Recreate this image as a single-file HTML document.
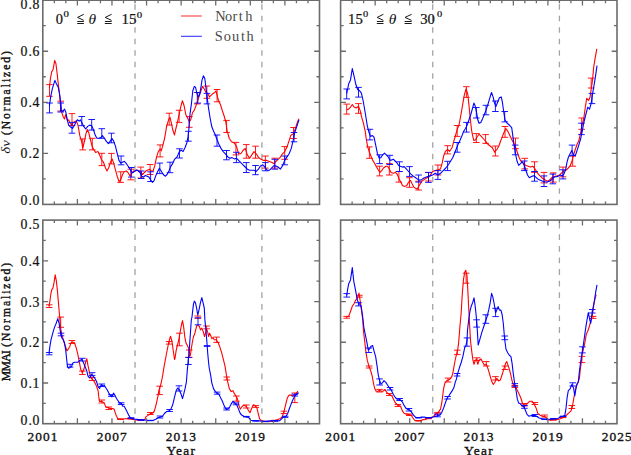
<!DOCTYPE html><html><head><meta charset="utf-8"><style>html,body{margin:0;padding:0;background:#fff;width:631px;height:455px;overflow:hidden}svg{display:block}text{font-family:"Liberation Serif",serif}</style></head><body>
<svg width="631" height="455" viewBox="0 0 631 455">
<rect width="631" height="455" fill="#fff"/>
<line x1="135.03" y1="0.2" x2="135.03" y2="204.4" stroke="#b8b8b8" stroke-width="1.7" stroke-dasharray="5.4 6.1" stroke-dashoffset="-4.1"/>
<line x1="135.03" y1="220.1" x2="135.03" y2="423.7" stroke="#b8b8b8" stroke-width="1.7" stroke-dasharray="5.8 5.8" stroke-dashoffset="-2.6"/>
<line x1="261.85" y1="0.2" x2="261.85" y2="204.4" stroke="#b8b8b8" stroke-width="1.7" stroke-dasharray="5.4 6.1" stroke-dashoffset="-4.1"/>
<line x1="261.85" y1="220.1" x2="261.85" y2="423.7" stroke="#b8b8b8" stroke-width="1.7" stroke-dasharray="5.8 5.8" stroke-dashoffset="-2.6"/>
<line x1="432.73" y1="0.2" x2="432.73" y2="204.4" stroke="#a4a4a4" stroke-width="1.3" stroke-dasharray="5.4 6.1" stroke-dashoffset="-4.1"/>
<line x1="432.73" y1="220.1" x2="432.73" y2="423.7" stroke="#a4a4a4" stroke-width="1.3" stroke-dasharray="5.8 5.8" stroke-dashoffset="-2.6"/>
<line x1="559.42" y1="0.2" x2="559.42" y2="204.4" stroke="#a4a4a4" stroke-width="1.3" stroke-dasharray="5.4 6.1" stroke-dashoffset="-4.1"/>
<line x1="559.42" y1="220.1" x2="559.42" y2="423.7" stroke="#a4a4a4" stroke-width="1.3" stroke-dasharray="5.8 5.8" stroke-dashoffset="-2.6"/>
<path d="M49.5 84.6V96.3M46.2 84.6h6.6M46.2 96.3h6.6M60.7 101.2V111.0M57.4 101.2h6.6M57.4 111.0h6.6M72.0 113.6V125.5M68.7 113.6h6.6M68.7 125.5h6.6M82.7 138.9V149.9M79.4 138.9h6.6M79.4 149.9h6.6M92.3 138.3V149.9M89.0 138.3h6.6M89.0 149.9h6.6M101.8 153.3V165.6M98.5 153.3h6.6M98.5 165.6h6.6M111.4 153.4V163.9M108.1 153.4h6.6M108.1 163.9h6.6M120.7 171.8V182.4M117.4 171.8h6.6M117.4 182.4h6.6M130.8 169.2V179.8M127.5 169.2h6.6M127.5 179.8h6.6M140.8 167.1V178.0M137.5 167.1h6.6M137.5 178.0h6.6M150.1 164.5V174.5M146.8 164.5h6.6M146.8 174.5h6.6M160.1 144.9V156.9M156.8 144.9h6.6M156.8 156.9h6.6M169.2 113.2V125.1M165.9 113.2h6.6M165.9 125.1h6.6M179.1 110.3V122.4M175.8 110.3h6.6M175.8 122.4h6.6M189.3 116.5V127.3M186.0 116.5h6.6M186.0 127.3h6.6M197.2 92.5V103.9M193.9 92.5h6.6M193.9 103.9h6.6M206.9 86.0V98.3M203.6 86.0h6.6M203.6 98.3h6.6M217.1 89.5V101.8M213.8 89.5h6.6M213.8 101.8h6.6M226.6 120.4V132.5M223.3 120.4h6.6M223.3 132.5h6.6M235.9 142.4V154.9M232.6 142.4h6.6M232.6 154.9h6.6M246.3 144.6V158.2M243.0 144.6h6.6M243.0 158.2h6.6M255.5 146.2V158.2M252.2 146.2h6.6M252.2 158.2h6.6M265.4 156.0V168.1M262.1 156.0h6.6M262.1 168.1h6.6M274.8 158.2V168.1M271.5 158.2h6.6M271.5 168.1h6.6M284.7 146.6V159.3M281.4 146.6h6.6M281.4 159.3h6.6M293.5 127.5V138.5M290.2 127.5h6.6M290.2 138.5h6.6" stroke="#ff0000" stroke-width="0.9" fill="none"/>
<polyline points="49.4,88.0 50.5,78.0 51.7,71.9 53.1,69.5 54.7,60.4 55.9,63.5 57.1,73.1 58.3,84.0 59.5,93.7 60.5,105.8 61.3,111.1 63.1,116.4 64.5,119.0 65.7,114.6 67.5,120.8 68.7,119.9 70.1,123.4 71.9,125.1 73.3,122.5 75.0,121.6 76.3,120.8 78.0,125.1 79.8,135.7 81.5,141.0 82.8,148.0 84.5,141.0 85.9,133.9 87.3,129.5 88.6,132.2 90.3,139.2 92.1,146.2 93.8,149.8 95.6,152.4 97.9,151.5 99.6,155.0 101.8,160.4 103.5,162.2 105.3,167.5 107.0,171.0 108.8,167.5 110.5,162.2 112.0,158.7 113.7,163.1 115.5,170.1 117.2,176.2 119.0,181.5 120.7,179.8 122.5,174.5 124.3,171.8 126.4,171.0 128.1,172.7 130.2,176.2 132.0,172.7 133.7,171.0 135.5,171.0 137.3,170.1 139.0,171.0 140.8,172.7 142.5,174.5 144.3,172.7 146.0,171.0 147.8,170.1 149.6,169.2 151.3,171.0 153.1,171.0 154.8,165.7 156.6,156.9 158.3,151.6 160.1,149.0 161.3,150.8 162.6,146.2 164.6,138.3 166.6,126.4 168.6,119.8 169.9,117.2 171.2,122.4 172.9,130.3 174.5,135.0 175.8,129.0 177.4,122.4 179.1,114.5 180.8,106.6 182.4,100.7 184.1,105.7 185.8,114.5 187.6,118.0 189.3,122.0 190.7,119.8 192.5,112.7 194.3,110.1 196.0,105.7 197.8,100.4 199.5,95.1 201.3,89.9 202.5,86.4 204.3,89.0 206.0,92.5 207.8,93.4 209.5,96.9 211.3,95.1 213.1,93.4 214.8,92.5 216.0,90.8 217.5,97.0 218.9,101.3 220.6,105.0 222.4,111.0 224.3,116.5 225.8,122.0 227.1,130.8 229.3,138.5 231.5,141.8 234.2,142.9 236.4,146.2 238.6,153.8 240.8,153.8 243.0,150.5 245.2,148.4 247.4,154.9 249.6,158.2 251.8,154.9 254.0,151.6 256.2,153.8 258.4,157.1 261.0,159.3 263.8,160.4 266.7,160.4 269.3,161.5 272.0,162.6 274.2,163.7 275.9,161.5 278.1,159.3 280.3,157.1 282.5,153.8 284.7,151.6 286.9,147.3 288.7,141.8 290.9,135.2 293.1,134.1 295.3,128.6 297.5,122.0 299.0,118.7" fill="none" stroke="#ff0000" stroke-width="1.1" stroke-linejoin="round"/>
<path d="M346.7 104.1V114.1M343.4 104.1h6.6M343.4 114.1h6.6M358.5 103.6V113.3M355.2 103.6h6.6M355.2 113.3h6.6M369.4 146.9V158.3M366.1 146.9h6.6M366.1 158.3h6.6M379.6 166.2V175.9M376.3 166.2h6.6M376.3 175.9h6.6M389.3 163.6V175.0M386.0 163.6h6.6M386.0 175.0h6.6M398.9 171.5V182.1M395.6 171.5h6.6M395.6 182.1h6.6M409.5 177.7V187.3M406.2 177.7h6.6M406.2 187.3h6.6M418.6 181.2V190.0M415.3 181.2h6.6M415.3 190.0h6.6M428.5 172.5V181.0M425.2 172.5h6.6M425.2 181.0h6.6M437.9 165.0V175.0M434.6 165.0h6.6M434.6 175.0h6.6M447.6 145.7V153.9M444.3 145.7h6.6M444.3 153.9h6.6M457.2 125.5V136.4M453.9 125.5h6.6M453.9 136.4h6.6M466.4 86.7V97.4M463.1 86.7h6.6M463.1 97.4h6.6M476.3 133.6V142.5M473.0 133.6h6.6M473.0 142.5h6.6M485.6 134.6V143.4M482.3 134.6h6.6M482.3 143.4h6.6M495.4 146.0V156.0M492.1 146.0h6.6M492.1 156.0h6.6M505.0 126.5V137.3M501.7 126.5h6.6M501.7 137.3h6.6M515.5 138.1V148.7M512.2 138.1h6.6M512.2 148.7h6.6M524.7 158.3V168.9M521.4 158.3h6.6M521.4 168.9h6.6M534.5 161.8V172.4M531.2 161.8h6.6M531.2 172.4h6.6M544.0 172.4V182.9M540.7 172.4h6.6M540.7 182.9h6.6M553.3 172.9V182.1M550.0 172.9h6.6M550.0 182.1h6.6M563.0 167.1V176.8M559.7 167.1h6.6M559.7 176.8h6.6M572.7 156.0V166.2M569.4 156.0h6.6M569.4 166.2h6.6M581.7 118.0V129.3M578.4 118.0h6.6M578.4 129.3h6.6M591.2 78.1V88.0M587.9 78.1h6.6M587.9 88.0h6.6" stroke="#ff0000" stroke-width="0.9" fill="none"/>
<polyline points="346.7,109.8 348.8,108.9 350.5,107.1 352.3,104.5 354.1,107.1 356.2,108.0 358.5,106.2 360.2,110.6 361.2,115.3 363.4,123.2 365.2,131.1 366.4,139.9 367.7,146.9 369.1,151.3 370.8,155.7 372.6,160.1 374.3,162.7 376.1,166.2 378.2,169.8 380.0,172.4 381.7,170.6 383.5,168.0 385.8,166.2 387.5,166.2 389.3,168.9 391.0,172.4 393.3,173.3 395.4,172.4 397.2,174.1 398.9,178.5 400.7,182.1 402.5,185.6 404.6,186.5 406.8,185.6 408.6,182.1 410.4,180.3 412.1,183.8 413.9,187.3 415.6,188.2 417.4,189.1 419.1,185.6 421.8,181.2 424.4,179.4 427.1,177.7 429.7,176.4 432.6,171.5 435.3,170.6 437.9,169.8 440.5,168.9 442.3,162.7 443.7,155.7 445.5,151.3 447.6,149.5 449.7,151.3 452.0,147.8 453.7,141.6 455.5,135.5 457.2,129.3 459.0,125.0 460.7,116.2 462.5,105.7 464.3,95.1 466.0,89.0 467.8,94.3 469.0,105.7 470.2,118.0 471.6,130.3 473.0,137.3 473.9,140.5 475.4,140.0 477.2,136.8 479.1,134.2 481.3,136.4 483.6,139.0 485.9,141.6 488.0,144.3 490.1,146.0 492.4,147.8 494.7,152.2 496.8,149.5 498.9,146.0 500.7,140.8 502.4,136.4 504.2,132.0 505.9,128.5 507.7,131.1 510.3,136.4 512.0,139.9 513.8,143.4 515.5,146.9 517.3,152.2 519.1,157.5 520.8,161.0 522.6,162.7 524.3,164.5 526.1,165.4 528.2,166.2 530.5,167.1 532.8,166.2 534.9,168.9 536.6,171.5 538.4,174.1 540.1,175.9 541.9,177.7 543.7,179.1 545.8,180.3 547.5,181.2 549.3,180.3 551.0,178.5 552.8,176.8 555.1,176.4 557.4,175.9 559.5,175.0 561.2,173.3 563.0,171.5 564.8,170.6 566.5,169.8 568.3,168.0 570.0,166.2 571.8,161.8 573.5,154.8 575.3,149.5 577.1,144.3 578.8,140.8 580.6,132.8 582.3,124.1 583.7,119.0 585.3,107.2 586.7,98.3 588.7,100.3 590.0,97.3 591.2,89.4 592.6,79.5 593.6,67.7 595.2,57.8 596.8,48.9" fill="none" stroke="#ff0000" stroke-width="1.1" stroke-linejoin="round"/>
<path d="M49.2 304.8V307.5M45.9 304.8h6.6M45.9 307.5h6.6M60.7 317.1V327.3M57.4 317.1h6.6M57.4 327.3h6.6M71.9 340.5V343.5M68.6 340.5h6.6M68.6 343.5h6.6M82.4 371.0V374.5M79.1 371.0h6.6M79.1 374.5h6.6M92.1 377.5V380.5M88.8 377.5h6.6M88.8 380.5h6.6M101.8 400.0V403.0M98.5 400.0h6.6M98.5 403.0h6.6M108.8 407.0V409.5M105.5 407.0h6.6M105.5 409.5h6.6M120.4 418.9V419.5M117.1 418.9h6.6M117.1 419.5h6.6M130.8 418.5V419.0M127.5 418.5h6.6M127.5 419.0h6.6M140.8 420.0V420.5M137.5 420.0h6.6M137.5 420.5h6.6M150.4 412.5V414.5M147.1 412.5h6.6M147.1 414.5h6.6M159.6 386.2V394.6M156.3 386.2h6.6M156.3 394.6h6.6M169.1 341.5V344.1M165.8 341.5h6.6M165.8 344.1h6.6M179.4 333.2V345.8M176.1 333.2h6.6M176.1 345.8h6.6M189.3 350.0V357.4M186.0 350.0h6.6M186.0 357.4h6.6M197.8 316.0V318.3M194.5 316.0h6.6M194.5 318.3h6.6M206.6 326.0V328.8M203.3 326.0h6.6M203.3 328.8h6.6M216.6 337.1V342.4M213.3 337.1h6.6M213.3 342.4h6.6M226.8 377.0V380.0M223.5 377.0h6.6M223.5 380.0h6.6M236.4 396.0V401.2M233.1 396.0h6.6M233.1 401.2h6.6M246.3 405.0V408.0M243.0 405.0h6.6M243.0 408.0h6.6M255.7 405.6V407.4M252.4 405.6h6.6M252.4 407.4h6.6M265.4 421.2V421.6M262.1 421.2h6.6M262.1 421.6h6.6M274.8 420.3V420.7M271.5 420.3h6.6M271.5 420.7h6.6M283.9 411.2V413.5M280.6 411.2h6.6M280.6 413.5h6.6M294.8 393.0V402.6M291.5 393.0h6.6M291.5 402.6h6.6" stroke="#ff0000" stroke-width="0.9" fill="none"/>
<polyline points="49.0,306.0 49.9,301.3 50.8,294.3 51.7,289.9 52.9,288.1 54.0,282.8 55.2,274.9 56.4,281.1 57.5,291.6 58.7,305.7 59.6,316.2 60.5,327.0 61.7,334.1 63.1,339.3 64.5,343.7 65.7,347.2 67.0,350.8 68.4,349.0 69.8,346.4 71.0,342.8 72.8,342.0 74.5,342.8 76.3,348.1 78.0,355.1 79.3,362.2 80.7,369.2 82.4,372.7 84.2,368.3 85.6,362.2 86.8,358.7 88.0,365.7 89.5,372.7 91.2,378.0 93.0,379.8 94.7,382.4 96.5,386.0 98.1,390.8 98.8,396.9 99.6,401.5 101.9,401.5 104.2,403.1 105.8,406.9 108.1,407.7 110.4,408.5 112.7,408.5 114.2,409.2 115.3,413.1 116.5,416.2 118.1,418.8 120.4,419.2 122.7,419.2 125.0,418.8 127.3,418.5 129.6,418.8 131.9,419.2 134.2,419.7 136.5,420.0 138.8,420.3 141.2,420.3 143.5,420.0 145.0,419.2 145.8,416.9 148.1,415.4 150.4,413.8 152.7,413.1 154.2,411.5 155.3,407.7 156.5,403.1 157.8,396.9 158.8,390.8 160.4,386.2 161.5,381.5 162.7,375.4 163.9,367.7 165.3,360.0 167.0,351.0 168.8,342.0 170.5,336.2 172.0,341.5 173.2,350.3 174.5,359.5 175.0,358.5 176.1,350.8 177.2,345.8 178.3,342.0 179.4,336.5 180.5,329.9 181.6,324.4 182.5,320.5 183.6,326.6 184.9,337.6 186.0,343.1 187.3,345.3 188.7,348.6 189.5,356.3 190.4,355.2 191.3,348.6 192.4,342.0 193.5,336.5 194.6,334.3 195.7,329.9 196.8,325.5 198.1,324.9 199.4,326.6 200.5,329.9 201.9,328.2 203.4,332.1 204.5,336.5 205.5,333.2 206.6,328.8 207.7,332.1 208.5,336.5 209.6,333.2 210.7,335.4 211.8,338.7 212.9,337.6 214.3,339.8 216.2,339.8 218.0,342.4 219.8,346.8 221.5,352.1 223.3,359.1 225.0,366.1 226.4,374.9 227.7,381.9 229.4,388.9 231.2,391.6 232.9,390.7 234.7,394.2 236.4,396.5 237.6,399.5 238.9,405.6 240.3,409.1 242.0,406.5 244.1,405.1 246.4,406.5 248.2,410.0 250.0,412.7 251.7,408.3 253.5,404.8 255.2,405.6 257.0,408.3 258.2,413.5 259.6,418.8 261.4,420.6 264.0,421.5 266.6,421.5 269.3,421.5 271.9,420.9 274.5,420.6 277.2,419.7 279.8,418.8 282.1,417.1 283.9,411.8 285.6,404.8 287.4,397.7 289.1,395.1 290.9,395.1 292.6,396.0 294.4,395.1 296.2,393.3 297.9,391.0" fill="none" stroke="#ff0000" stroke-width="1.1" stroke-linejoin="round"/>
<path d="M346.7 316.4V318.2M343.4 316.4h6.6M343.4 318.2h6.6M359.3 295.3V297.1M356.0 295.3h6.6M356.0 297.1h6.6M369.1 366.0V368.0M365.8 366.0h6.6M365.8 368.0h6.6M379.6 389.4V392.0M376.3 389.4h6.6M376.3 392.0h6.6M389.3 393.5V395.5M386.0 393.5h6.6M386.0 395.5h6.6M397.9 404.5V406.5M394.6 404.5h6.6M394.6 406.5h6.6M409.3 414.0V415.5M406.0 414.0h6.6M406.0 415.5h6.6M418.6 420.5V421.0M415.3 420.5h6.6M415.3 421.0h6.6M428.5 418.3V418.7M425.2 418.3h6.6M425.2 418.7h6.6M437.5 412.4V414.0M434.2 412.4h6.6M434.2 414.0h6.6M448.0 378.1V382.0M444.7 378.1h6.6M444.7 382.0h6.6M457.3 350.2V354.6M454.0 350.2h6.6M454.0 354.6h6.6M466.1 273.2V283.2M462.8 273.2h6.6M462.8 283.2h6.6M477.0 357.8V360.5M473.7 357.8h6.6M473.7 360.5h6.6M486.3 361.6V366.0M483.0 361.6h6.6M483.0 366.0h6.6M495.4 376.6V380.0M492.1 376.6h6.6M492.1 380.0h6.6M505.1 366.0V369.5M501.8 366.0h6.6M501.8 369.5h6.6M514.8 385.5V387.5M511.5 385.5h6.6M511.5 387.5h6.6M524.4 403.5V406.0M521.1 403.5h6.6M521.1 406.0h6.6M534.9 402.5V404.5M531.6 402.5h6.6M531.6 404.5h6.6M544.6 415.0V417.0M541.3 415.0h6.6M541.3 417.0h6.6M553.3 419.6V420.1M550.0 419.6h6.6M550.0 420.1h6.6M563.0 417.2V417.6M559.7 417.2h6.6M559.7 417.6h6.6M571.8 405.5V408.5M568.5 405.5h6.6M568.5 408.5h6.6M581.9 356.4V362.6M578.6 356.4h6.6M578.6 362.6h6.6M593.1 316.4V318.4M589.8 316.4h6.6M589.8 318.4h6.6" stroke="#ff0000" stroke-width="0.9" fill="none"/>
<polyline points="346.7,317.0 348.8,315.9 350.5,311.5 352.3,306.2 354.1,303.6 355.8,300.1 357.6,297.5 359.0,293.1 360.2,301.0 361.4,309.8 362.8,320.3 363.4,330.5 364.7,341.1 365.9,351.6 367.3,360.4 369.1,366.6 370.8,371.0 372.2,376.2 373.5,383.3 374.7,388.5 376.1,391.2 377.8,391.2 379.6,390.3 381.4,391.2 383.1,391.2 384.9,389.4 386.6,392.1 388.4,393.8 390.1,394.7 391.8,395.7 393.5,399.2 395.3,402.7 397.0,404.5 398.8,405.4 400.5,406.2 402.3,410.6 404.1,413.3 405.8,414.1 407.6,414.1 409.3,414.7 411.1,415.0 412.8,417.7 414.6,420.3 417.2,420.7 419.9,420.7 422.5,419.9 425.1,419.4 427.8,418.5 430.4,417.7 433.1,416.8 435.7,414.1 438.3,412.4 440.6,408.9 441.8,402.7 442.7,395.7 443.6,388.7 444.8,383.4 446.6,380.8 448.3,379.9 450.1,379.0 451.9,376.4 452.9,372.8 454.1,365.8 455.2,360.0 456.6,354.0 457.6,350.0 458.5,344.1 459.4,333.5 459.9,326.8 461.2,312.7 462.2,295.1 463.5,279.3 464.7,272.3 465.7,270.2 467.0,275.8 467.8,289.9 468.7,307.5 469.6,325.0 470.5,340.5 471.7,351.1 472.9,359.9 474.0,364.3 475.2,360.8 476.4,359.0 477.8,364.3 479.3,359.9 481.0,359.0 482.8,362.5 484.5,365.1 486.3,364.3 488.0,368.7 489.8,374.8 491.6,381.0 493.3,384.5 495.1,381.8 496.8,378.3 498.6,381.0 500.3,380.1 502.1,374.8 503.9,368.7 505.6,363.4 506.8,361.6 508.6,366.9 510.4,373.1 512.1,381.0 513.9,386.2 515.6,387.1 517.4,390.6 519.1,394.1 520.0,396.0 521.4,399.5 522.6,403.9 524.4,405.6 527.0,403.9 529.7,401.2 532.0,401.2 534.1,403.9 536.2,408.3 537.9,413.5 540.2,415.3 542.8,416.2 545.5,417.1 548.1,419.7 550.8,420.2 553.4,419.7 556.0,419.7 558.7,419.2 561.3,418.5 563.9,417.1 566.6,415.0 569.2,412.7 571.0,410.9 572.4,406.5 573.6,399.5 574.8,392.5 576.2,386.3 578.0,382.8 579.4,378.4 580.1,371.4 581.2,362.6 581.9,356.0 583.2,350.0 584.8,343.1 586.3,334.2 587.7,331.3 589.1,327.3 590.7,321.4 592.3,315.5 593.7,305.6 595.0,298.7 596.2,294.7" fill="none" stroke="#ff0000" stroke-width="1.1" stroke-linejoin="round"/>
<path d="M49.5 103.0V112.9M46.2 103.0h6.6M46.2 112.9h6.6M60.7 103.0V112.0M57.4 103.0h6.6M57.4 112.0h6.6M72.0 122.4V133.2M68.7 122.4h6.6M68.7 133.2h6.6M81.8 116.5V125.7M78.5 116.5h6.6M78.5 125.7h6.6M91.7 119.5V130.1M88.4 119.5h6.6M88.4 130.1h6.6M101.8 128.7V138.3M98.5 128.7h6.6M98.5 138.3h6.6M111.4 133.2V142.8M108.1 133.2h6.6M108.1 142.8h6.6M121.1 156.0V164.8M117.8 156.0h6.6M117.8 164.8h6.6M131.3 167.5V177.1M128.0 167.5h6.6M128.0 177.1h6.6M141.3 171.0V178.5M138.0 171.0h6.6M138.0 178.5h6.6M150.6 171.8V181.5M147.3 171.8h6.6M147.3 181.5h6.6M159.8 163.1V173.6M156.5 163.1h6.6M156.5 173.6h6.6M170.0 162.2V172.7M166.7 162.2h6.6M166.7 172.7h6.6M179.5 148.8V158.0M176.2 148.8h6.6M176.2 158.0h6.6M188.4 131.3V141.2M185.1 131.3h6.6M185.1 141.2h6.6M197.8 92.5V103.1M194.5 92.5h6.6M194.5 103.1h6.6M206.9 93.4V103.9M203.6 93.4h6.6M203.6 103.9h6.6M217.0 135.0V146.2M213.7 135.0h6.6M213.7 146.2h6.6M226.5 150.5V159.8M223.2 150.5h6.6M223.2 159.8h6.6M236.4 152.3V162.6M233.1 152.3h6.6M233.1 162.6h6.6M246.3 162.6V172.5M243.0 162.6h6.6M243.0 172.5h6.6M255.5 165.5V174.7M252.2 165.5h6.6M252.2 174.7h6.6M265.4 162.6V170.8M262.1 162.6h6.6M262.1 170.8h6.6M274.8 159.3V169.2M271.5 159.3h6.6M271.5 169.2h6.6M284.7 156.0V164.8M281.4 156.0h6.6M281.4 164.8h6.6M294.0 132.5V141.8M290.7 132.5h6.6M290.7 141.8h6.6" stroke="#0000ff" stroke-width="0.9" fill="none"/>
<polyline points="49.4,106.0 50.7,96.7 52.3,88.9 54.9,80.4 56.5,84.0 58.3,87.6 59.5,93.7 60.7,102.2 61.3,110.6 62.9,111.2 64.6,109.2 65.9,112.5 67.3,119.8 68.6,125.1 70.6,127.0 72.5,128.4 74.2,125.7 75.8,122.4 77.4,119.8 79.1,121.1 80.4,119.8 81.8,122.4 83.7,126.4 85.7,129.0 87.7,126.4 89.7,125.1 91.7,125.7 93.6,130.3 95.4,135.6 96.9,138.3 98.9,138.3 100.9,137.5 102.6,135.7 104.4,138.3 106.2,141.1 108.4,143.7 110.2,141.1 112.0,138.5 113.7,141.1 115.5,146.4 117.2,153.4 119.0,160.4 120.7,163.1 122.5,162.2 124.3,161.3 126.0,163.1 127.8,165.7 129.5,168.3 131.3,171.8 133.0,172.7 134.8,171.0 136.6,170.1 138.3,171.0 140.1,172.7 141.8,176.2 143.6,177.1 145.3,175.4 147.1,176.2 148.9,177.1 150.6,179.8 152.4,182.4 154.1,180.6 155.9,175.4 157.6,171.8 159.4,168.3 161.2,171.0 163.3,174.5 165.4,176.2 167.1,174.5 168.9,171.0 170.7,166.6 172.4,163.9 174.5,159.4 177.2,156.7 179.1,152.1 181.1,150.1 183.1,151.5 185.1,147.5 187.0,142.2 188.0,136.9 188.8,130.3 189.3,122.4 190.1,113.2 191.4,103.9 192.8,90.8 194.3,86.4 195.5,87.2 196.7,92.5 198.1,96.9 199.5,95.1 200.8,88.1 202.0,80.2 203.4,75.8 204.8,78.5 206.0,88.1 207.3,98.7 208.7,109.2 210.1,118.0 211.8,126.8 213.6,131.2 215.3,134.7 216.6,138.5 218.8,144.0 221.0,148.4 223.2,151.6 225.4,153.8 227.6,156.7 229.8,158.2 232.0,157.6 234.2,158.9 236.4,158.2 238.6,160.4 240.8,162.6 243.0,164.8 245.2,167.0 247.4,169.2 249.6,170.3 251.8,170.3 254.0,170.3 256.2,171.4 258.4,169.2 260.5,165.9 262.7,164.8 264.9,167.0 267.1,170.3 269.3,170.3 271.5,168.1 273.7,165.9 275.9,165.9 278.1,167.0 280.3,169.2 282.5,165.9 284.7,160.4 286.9,157.1 289.1,153.8 291.3,148.4 293.1,140.7 294.6,133.0 296.8,126.4 299.0,119.8" fill="none" stroke="#0000ff" stroke-width="1.1" stroke-linejoin="round"/>
<path d="M346.7 89.0V98.9M343.4 89.0h6.6M343.4 98.9h6.6M358.5 87.4V97.1M355.2 87.4h6.6M355.2 97.1h6.6M369.9 129.3V139.9M366.6 129.3h6.6M366.6 139.9h6.6M379.6 154.8V163.6M376.3 154.8h6.6M376.3 163.6h6.6M389.8 155.3V164.5M386.5 155.3h6.6M386.5 164.5h6.6M399.5 161.8V171.5M396.2 161.8h6.6M396.2 171.5h6.6M409.5 166.6V176.4M406.2 166.6h6.6M406.2 176.4h6.6M418.6 175.0V182.1M415.3 175.0h6.6M415.3 182.1h6.6M428.5 172.4V182.4M425.2 172.4h6.6M425.2 182.4h6.6M437.9 170.6V179.4M434.6 170.6h6.6M434.6 179.4h6.6M447.6 161.3V170.6M444.3 161.3h6.6M444.3 170.6h6.6M457.2 142.5V152.2M453.9 142.5h6.6M453.9 152.2h6.6M466.5 122.4V132.1M463.2 122.4h6.6M463.2 132.1h6.6M476.3 107.5V118.0M473.0 107.5h6.6M473.0 118.0h6.6M486.0 105.3V114.8M482.7 105.3h6.6M482.7 114.8h6.6M495.4 101.0V111.5M492.1 101.0h6.6M492.1 111.5h6.6M504.7 111.5V121.9M501.4 111.5h6.6M501.4 121.9h6.6M515.2 145.1V154.8M511.9 145.1h6.6M511.9 154.8h6.6M524.3 161.0V170.6M521.0 161.0h6.6M521.0 170.6h6.6M534.5 171.5V181.2M531.2 171.5h6.6M531.2 181.2h6.6M544.0 175.9V186.5M540.7 175.9h6.6M540.7 186.5h6.6M552.8 174.1V183.8M549.5 174.1h6.6M549.5 183.8h6.6M563.0 169.8V178.9M559.7 169.8h6.6M559.7 178.9h6.6M572.1 145.1V155.7M568.8 145.1h6.6M568.8 155.7h6.6M581.5 123.2V134.6M578.2 123.2h6.6M578.2 134.6h6.6M592.0 93.4V103.6M588.7 93.4h6.6M588.7 103.6h6.6" stroke="#0000ff" stroke-width="0.9" fill="none"/>
<polyline points="346.7,93.5 348.8,83.4 350.5,79.9 352.3,68.5 354.1,76.4 355.8,84.3 357.6,89.5 359.7,90.8 361.4,93.1 363.2,101.0 365.0,111.5 365.9,117.0 367.3,125.8 369.1,132.8 370.5,136.4 372.2,135.5 374.0,137.2 375.7,145.1 377.5,153.9 379.3,158.3 381.0,157.5 382.8,154.8 384.5,153.1 386.3,154.8 388.0,156.6 389.8,160.1 391.6,160.1 393.3,159.2 395.1,161.0 396.8,162.7 398.6,165.4 400.3,166.2 402.5,167.1 404.2,166.6 406.3,168.9 408.6,171.5 410.9,174.1 413.0,175.9 415.6,177.7 417.9,179.4 419.7,180.3 421.8,179.4 424.4,177.7 427.1,176.8 429.7,175.9 432.6,175.0 435.3,173.3 437.9,175.0 440.5,173.3 443.2,170.6 445.8,168.0 448.5,164.5 450.7,161.0 452.8,157.5 455.0,152.2 456.7,147.8 458.5,143.4 460.2,140.0 462.0,135.6 463.7,131.2 465.5,128.5 467.2,125.0 469.0,119.8 470.8,114.5 472.5,108.3 473.9,103.1 475.1,105.7 476.6,112.7 477.8,119.8 479.0,123.3 480.8,122.4 482.5,118.9 484.3,114.5 486.0,110.1 487.8,104.8 489.6,98.7 491.5,92.5 493.1,96.9 494.5,103.1 495.9,106.6 497.6,102.2 499.4,97.8 501.2,96.9 502.4,102.2 503.6,111.0 505.0,119.8 506.8,122.8 508.7,124.5 510.5,126.3 511.7,127.6 512.9,136.4 514.1,145.1 515.5,153.9 517.0,161.0 518.7,165.4 520.5,163.6 522.2,161.8 524.0,164.5 525.7,169.8 527.5,175.0 529.3,177.7 531.0,176.8 532.8,175.9 534.5,175.9 536.3,177.7 538.4,179.4 540.5,180.3 542.8,181.2 545.1,181.7 547.2,182.1 549.3,181.2 551.0,180.3 552.8,178.5 554.6,176.8 556.8,176.8 558.6,175.9 560.4,175.0 562.1,175.9 563.9,174.1 565.6,169.8 566.9,162.7 568.3,157.5 570.0,153.9 571.8,150.4 573.5,154.8 575.3,155.7 577.1,150.4 578.8,145.1 580.6,139.0 582.3,131.1 583.7,123.0 585.7,115.1 587.7,107.2 589.6,109.2 591.2,103.2 592.6,93.4 594.0,85.5 595.6,75.6 597.0,65.7" fill="none" stroke="#0000ff" stroke-width="1.1" stroke-linejoin="round"/>
<path d="M49.2 352.5V354.8M45.9 352.5h6.6M45.9 354.8h6.6M61.0 333.2V335.8M57.7 333.2h6.6M57.7 335.8h6.6M70.1 364.3V367.1M66.8 364.3h6.6M66.8 367.1h6.6M82.4 358.3V361.0M79.1 358.3h6.6M79.1 361.0h6.6M92.1 372.7V375.4M88.8 372.7h6.6M88.8 375.4h6.6M101.8 384.0V386.5M98.5 384.0h6.6M98.5 386.5h6.6M111.4 394.7V396.4M108.1 394.7h6.6M108.1 396.4h6.6M121.2 402.8V404.5M117.9 402.8h6.6M117.9 404.5h6.6M131.0 417.8V418.2M127.7 417.8h6.6M127.7 418.2h6.6M141.0 419.8V420.2M137.7 419.8h6.6M137.7 420.2h6.6M150.3 420.3V420.7M147.0 420.3h6.6M147.0 420.7h6.6M160.0 416.0V418.0M156.7 416.0h6.6M156.7 418.0h6.6M169.6 409.5V411.5M166.3 409.5h6.6M166.3 411.5h6.6M179.0 385.8V391.0M175.7 385.8h6.6M175.7 391.0h6.6M188.4 357.4V364.5M185.1 357.4h6.6M185.1 364.5h6.6M198.0 317.8V324.8M194.7 317.8h6.6M194.7 324.8h6.6M207.1 345.6V346.4M203.8 345.6h6.6M203.8 346.4h6.6M217.1 392.1V394.2M213.8 392.1h6.6M213.8 394.2h6.6M226.6 408.0V410.0M223.3 408.0h6.6M223.3 410.0h6.6M236.0 403.0V404.8M232.7 403.0h6.6M232.7 404.8h6.6M246.3 416.4V416.9M243.0 416.4h6.6M243.0 416.9h6.6M255.5 420.6V421.0M252.2 420.6h6.6M252.2 421.0h6.6M265.4 421.2V421.6M262.1 421.2h6.6M262.1 421.6h6.6M274.8 420.7V421.1M271.5 420.7h6.6M271.5 421.1h6.6M285.1 416.2V417.4M281.8 416.2h6.6M281.8 417.4h6.6M294.8 394.2V396.0M291.5 394.2h6.6M291.5 396.0h6.6" stroke="#0000ff" stroke-width="0.9" fill="none"/>
<polyline points="49.0,353.4 49.9,346.4 51.1,339.3 52.5,334.1 54.3,327.9 56.1,323.5 57.8,318.6 59.2,323.8 60.5,332.3 61.7,337.6 63.1,339.3 64.5,342.8 65.7,349.9 66.6,358.7 67.5,366.6 68.7,368.3 70.1,367.5 71.5,366.6 72.8,363.1 74.5,362.2 76.3,362.2 78.0,362.2 79.8,360.4 81.5,359.5 83.3,362.2 85.1,366.6 86.8,371.0 88.0,376.2 89.8,378.0 91.6,374.5 93.0,376.2 94.7,378.0 96.5,381.5 98.2,386.8 99.6,388.5 101.2,384.6 102.7,386.2 104.2,385.4 105.8,387.7 107.3,390.0 108.8,393.1 110.4,395.4 111.9,396.9 113.5,393.1 115.0,395.4 116.5,398.5 118.1,400.8 119.6,403.1 121.2,403.1 122.7,406.2 124.2,406.2 125.8,409.2 127.3,412.3 128.8,415.4 130.4,417.7 132.7,418.8 135.0,419.2 137.3,419.4 139.6,419.7 141.9,420.0 144.2,420.0 146.5,420.3 148.8,420.5 151.2,420.5 153.5,420.3 155.8,419.2 158.1,417.7 160.4,416.9 162.6,416.2 164.4,413.5 166.2,411.8 168.8,410.9 170.9,409.1 172.7,404.8 174.4,397.7 176.2,390.7 177.6,388.1 179.3,389.8 181.1,394.2 182.5,398.6 183.7,394.2 185.0,388.9 186.4,381.9 187.2,371.4 188.0,362.9 188.7,356.3 189.5,346.4 190.4,333.2 191.3,320.0 192.0,316.9 193.4,304.6 194.3,301.1 195.5,302.8 196.6,308.1 197.8,315.1 199.0,309.9 200.4,302.8 201.8,297.6 203.1,302.8 204.3,308.1 204.9,320.0 205.8,328.8 206.9,342.0 207.7,353.0 208.5,361.8 209.2,368.0 210.6,374.9 211.8,382.8 213.6,388.9 215.4,391.6 217.1,393.3 218.9,394.2 220.6,397.7 222.4,401.2 224.1,405.6 225.9,409.1 227.7,409.1 229.4,407.4 231.2,403.9 232.9,401.2 234.7,403.0 236.8,404.8 238.5,409.1 240.3,413.5 242.0,415.3 243.8,416.2 245.5,416.7 247.3,417.1 249.1,417.9 250.8,420.2 253.5,420.6 256.1,420.9 259.6,420.9 263.1,421.5 266.6,421.5 270.1,420.9 273.7,420.9 277.2,420.9 279.8,420.6 281.6,418.8 283.3,417.1 286.0,416.2 287.7,413.5 289.5,408.3 291.2,403.9 293.0,399.5 294.8,396.0 296.5,394.2 298.6,392.8" fill="none" stroke="#0000ff" stroke-width="1.1" stroke-linejoin="round"/>
<path d="M346.7 293.6V297.1M343.4 293.6h6.6M343.4 297.1h6.6M358.5 302.7V305.9M355.2 302.7h6.6M355.2 305.9h6.6M368.7 348.0V352.5M365.4 348.0h6.6M365.4 352.5h6.6M379.6 378.9V385.0M376.3 378.9h6.6M376.3 385.0h6.6M390.1 387.5V390.0M386.8 387.5h6.6M386.8 390.0h6.6M399.7 398.5V400.5M396.4 398.5h6.6M396.4 400.5h6.6M409.0 408.5V411.0M405.7 408.5h6.6M405.7 411.0h6.6M418.6 417.5V417.9M415.3 417.5h6.6M415.3 417.9h6.6M428.5 417.5V417.9M425.2 417.5h6.6M425.2 417.9h6.6M437.5 414.1V416.8M434.2 414.1h6.6M434.2 416.8h6.6M447.6 396.5V399.0M444.3 396.5h6.6M444.3 399.0h6.6M457.1 373.5V376.0M453.8 373.5h6.6M453.8 376.0h6.6M467.0 337.9V346.2M463.7 337.9h6.6M463.7 346.2h6.6M476.6 319.8V327.1M473.3 319.8h6.6M473.3 327.1h6.6M485.8 314.8V323.3M482.5 314.8h6.6M482.5 323.3h6.6M495.6 308.3V316.6M492.3 308.3h6.6M492.3 316.6h6.6M504.8 336.0V339.7M501.5 336.0h6.6M501.5 339.7h6.6M514.8 383.6V386.2M511.5 383.6h6.6M511.5 386.2h6.6M524.4 405.5V408.3M521.1 405.5h6.6M521.1 408.3h6.6M534.9 414.5V416.5M531.6 414.5h6.6M531.6 416.5h6.6M544.6 419.0V419.4M541.3 419.0h6.6M541.3 419.4h6.6M553.3 418.6V419.0M550.0 418.6h6.6M550.0 419.0h6.6M563.0 416.1V416.5M559.7 416.1h6.6M559.7 416.5h6.6M572.7 382.8V386.0M569.4 382.8h6.6M569.4 386.0h6.6M582.4 346.8V352.9M579.1 346.8h6.6M579.1 352.9h6.6M592.3 309.5V313.0M589.0 309.5h6.6M589.0 313.0h6.6" stroke="#0000ff" stroke-width="0.9" fill="none"/>
<polyline points="346.7,295.3 347.9,287.8 348.8,283.4 350.5,279.9 352.3,267.6 353.7,280.8 354.9,286.9 356.2,293.9 357.6,301.0 359.3,303.6 361.1,306.2 362.5,315.0 363.8,327.0 365.2,334.1 367.0,342.8 368.2,349.9 369.4,349.0 370.8,346.4 372.6,345.5 374.0,350.8 375.7,356.9 377.0,365.7 378.2,374.5 379.6,380.6 381.0,384.1 382.8,382.4 384.0,380.6 385.8,382.4 387.5,385.0 389.3,387.7 391.0,389.6 391.8,391.3 393.5,394.8 395.3,397.5 397.0,399.2 398.8,399.2 400.5,400.1 402.3,401.8 404.1,405.4 405.8,408.0 407.6,409.4 409.3,409.8 411.1,411.5 412.8,414.1 414.6,416.4 416.4,417.7 419.0,417.7 421.6,417.1 424.3,417.1 426.9,417.7 429.5,417.7 432.2,417.3 434.8,416.4 437.5,415.9 440.1,415.0 441.8,412.4 443.6,408.0 445.4,402.7 447.1,398.3 448.9,395.7 450.6,393.1 452.4,390.4 454.1,386.9 455.4,381.6 456.4,379.2 457.6,373.9 459.4,367.8 461.2,362.5 462.9,356.4 464.7,347.6 465.9,345.8 467.0,340.5 467.5,330.3 468.7,319.8 470.0,311.0 471.4,305.7 472.8,302.2 474.0,297.8 474.9,303.9 475.9,312.7 477.0,325.0 478.2,345.0 480.0,338.8 481.9,332.1 483.7,326.8 485.4,321.5 487.2,316.2 488.9,309.2 490.3,302.2 491.6,293.4 492.8,296.9 494.2,303.9 495.6,312.7 496.8,310.1 498.1,306.6 499.5,310.1 500.9,310.1 502.1,314.5 503.3,323.3 504.6,338.8 506.0,349.3 507.7,352.8 509.5,355.5 510.9,356.4 512.1,363.4 513.3,373.9 514.8,384.5 516.2,391.5 517.4,399.4 518.6,402.9 520.4,403.8 521.8,405.6 523.5,406.5 525.3,410.0 527.0,414.4 528.8,416.2 530.5,415.7 533.2,415.3 535.8,415.7 537.6,417.1 539.3,417.9 542.0,418.8 544.6,419.2 547.2,419.7 549.9,419.2 552.5,418.8 555.1,418.8 557.8,418.5 560.4,417.1 563.1,416.2 564.8,415.3 566.0,408.3 567.1,397.7 568.3,390.7 570.1,388.9 571.8,384.5 573.6,388.1 574.8,396.0 575.9,388.9 577.1,383.7 578.3,381.9 579.4,371.4 580.6,362.6 581.9,353.8 582.8,349.0 584.4,337.2 585.8,327.3 587.1,319.4 588.3,312.5 589.7,319.4 590.7,323.4 591.7,315.5 593.1,307.5 594.6,299.6 595.6,292.7 597.0,284.8" fill="none" stroke="#0000ff" stroke-width="1.1" stroke-linejoin="round"/>
<rect x="42.8" y="0.2" width="276.70" height="204.20" fill="none" stroke="#6b6b6b" stroke-width="1.6"/>
<path d="M54.33 204.4v-3.0M54.33 0.2v3.0M65.86 204.4v-3.0M65.86 0.2v3.0M77.39 204.4v-5.4M77.39 0.2v5.4M88.92 204.4v-3.0M88.92 0.2v3.0M100.45 204.4v-3.0M100.45 0.2v3.0M111.97 204.4v-5.4M111.97 0.2v5.4M123.50 204.4v-3.0M123.50 0.2v3.0M135.03 204.4v-3.0M135.03 0.2v3.0M146.56 204.4v-5.4M146.56 0.2v5.4M158.09 204.4v-3.0M158.09 0.2v3.0M169.62 204.4v-3.0M169.62 0.2v3.0M181.15 204.4v-5.4M181.15 0.2v5.4M192.68 204.4v-3.0M192.68 0.2v3.0M204.21 204.4v-3.0M204.21 0.2v3.0M215.74 204.4v-5.4M215.74 0.2v5.4M227.27 204.4v-3.0M227.27 0.2v3.0M238.80 204.4v-3.0M238.80 0.2v3.0M250.32 204.4v-5.4M250.32 0.2v5.4M261.85 204.4v-3.0M261.85 0.2v3.0M273.38 204.4v-3.0M273.38 0.2v3.0M284.91 204.4v-5.4M284.91 0.2v5.4M296.44 204.4v-3.0M296.44 0.2v3.0M307.97 204.4v-3.0M307.97 0.2v3.0M42.8 178.88h3.0M319.5 178.88h-3.0M42.8 153.35h5.3M319.5 153.35h-5.3M42.8 127.83h3.0M319.5 127.83h-3.0M42.8 102.30h5.3M319.5 102.30h-5.3M42.8 76.77h3.0M319.5 76.77h-3.0M42.8 51.25h5.3M319.5 51.25h-5.3M42.8 25.72h3.0M319.5 25.72h-3.0" stroke="#6b6b6b" stroke-width="1.3" fill="none"/>
<rect x="340.6" y="0.2" width="276.40" height="204.20" fill="none" stroke="#6b6b6b" stroke-width="1.6"/>
<path d="M352.12 204.4v-3.0M352.12 0.2v3.0M363.63 204.4v-3.0M363.63 0.2v3.0M375.15 204.4v-5.4M375.15 0.2v5.4M386.67 204.4v-3.0M386.67 0.2v3.0M398.18 204.4v-3.0M398.18 0.2v3.0M409.70 204.4v-5.4M409.70 0.2v5.4M421.22 204.4v-3.0M421.22 0.2v3.0M432.73 204.4v-3.0M432.73 0.2v3.0M444.25 204.4v-5.4M444.25 0.2v5.4M455.77 204.4v-3.0M455.77 0.2v3.0M467.28 204.4v-3.0M467.28 0.2v3.0M478.80 204.4v-5.4M478.80 0.2v5.4M490.32 204.4v-3.0M490.32 0.2v3.0M501.83 204.4v-3.0M501.83 0.2v3.0M513.35 204.4v-5.4M513.35 0.2v5.4M524.87 204.4v-3.0M524.87 0.2v3.0M536.38 204.4v-3.0M536.38 0.2v3.0M547.90 204.4v-5.4M547.90 0.2v5.4M559.42 204.4v-3.0M559.42 0.2v3.0M570.93 204.4v-3.0M570.93 0.2v3.0M582.45 204.4v-5.4M582.45 0.2v5.4M593.97 204.4v-3.0M593.97 0.2v3.0M605.48 204.4v-3.0M605.48 0.2v3.0M340.6 178.88h3.0M617.0 178.88h-3.0M340.6 153.35h5.3M617.0 153.35h-5.3M340.6 127.83h3.0M617.0 127.83h-3.0M340.6 102.30h5.3M617.0 102.30h-5.3M340.6 76.77h3.0M617.0 76.77h-3.0M340.6 51.25h5.3M617.0 51.25h-5.3M340.6 25.72h3.0M617.0 25.72h-3.0" stroke="#6b6b6b" stroke-width="1.3" fill="none"/>
<rect x="42.8" y="220.1" width="276.70" height="203.60" fill="none" stroke="#6b6b6b" stroke-width="1.6"/>
<path d="M54.33 423.7v-3.0M54.33 220.1v3.0M65.86 423.7v-3.0M65.86 220.1v3.0M77.39 423.7v-5.4M77.39 220.1v5.4M88.92 423.7v-3.0M88.92 220.1v3.0M100.45 423.7v-3.0M100.45 220.1v3.0M111.97 423.7v-5.4M111.97 220.1v5.4M123.50 423.7v-3.0M123.50 220.1v3.0M135.03 423.7v-3.0M135.03 220.1v3.0M146.56 423.7v-5.4M146.56 220.1v5.4M158.09 423.7v-3.0M158.09 220.1v3.0M169.62 423.7v-3.0M169.62 220.1v3.0M181.15 423.7v-5.4M181.15 220.1v5.4M192.68 423.7v-3.0M192.68 220.1v3.0M204.21 423.7v-3.0M204.21 220.1v3.0M215.74 423.7v-5.4M215.74 220.1v5.4M227.27 423.7v-3.0M227.27 220.1v3.0M238.80 423.7v-3.0M238.80 220.1v3.0M250.32 423.7v-5.4M250.32 220.1v5.4M261.85 423.7v-3.0M261.85 220.1v3.0M273.38 423.7v-3.0M273.38 220.1v3.0M284.91 423.7v-5.4M284.91 220.1v5.4M296.44 423.7v-3.0M296.44 220.1v3.0M307.97 423.7v-3.0M307.97 220.1v3.0M42.8 403.34h3.0M319.5 403.34h-3.0M42.8 382.98h5.3M319.5 382.98h-5.3M42.8 362.62h3.0M319.5 362.62h-3.0M42.8 342.26h5.3M319.5 342.26h-5.3M42.8 321.90h3.0M319.5 321.90h-3.0M42.8 301.54h5.3M319.5 301.54h-5.3M42.8 281.18h3.0M319.5 281.18h-3.0M42.8 260.82h5.3M319.5 260.82h-5.3M42.8 240.46h3.0M319.5 240.46h-3.0" stroke="#6b6b6b" stroke-width="1.3" fill="none"/>
<rect x="340.6" y="220.1" width="276.40" height="203.60" fill="none" stroke="#6b6b6b" stroke-width="1.6"/>
<path d="M352.12 423.7v-3.0M352.12 220.1v3.0M363.63 423.7v-3.0M363.63 220.1v3.0M375.15 423.7v-5.4M375.15 220.1v5.4M386.67 423.7v-3.0M386.67 220.1v3.0M398.18 423.7v-3.0M398.18 220.1v3.0M409.70 423.7v-5.4M409.70 220.1v5.4M421.22 423.7v-3.0M421.22 220.1v3.0M432.73 423.7v-3.0M432.73 220.1v3.0M444.25 423.7v-5.4M444.25 220.1v5.4M455.77 423.7v-3.0M455.77 220.1v3.0M467.28 423.7v-3.0M467.28 220.1v3.0M478.80 423.7v-5.4M478.80 220.1v5.4M490.32 423.7v-3.0M490.32 220.1v3.0M501.83 423.7v-3.0M501.83 220.1v3.0M513.35 423.7v-5.4M513.35 220.1v5.4M524.87 423.7v-3.0M524.87 220.1v3.0M536.38 423.7v-3.0M536.38 220.1v3.0M547.90 423.7v-5.4M547.90 220.1v5.4M559.42 423.7v-3.0M559.42 220.1v3.0M570.93 423.7v-3.0M570.93 220.1v3.0M582.45 423.7v-5.4M582.45 220.1v5.4M593.97 423.7v-3.0M593.97 220.1v3.0M605.48 423.7v-3.0M605.48 220.1v3.0M340.6 403.34h3.0M617.0 403.34h-3.0M340.6 382.98h5.3M617.0 382.98h-5.3M340.6 362.62h3.0M617.0 362.62h-3.0M340.6 342.26h5.3M617.0 342.26h-5.3M340.6 321.90h3.0M617.0 321.90h-3.0M340.6 301.54h5.3M617.0 301.54h-5.3M340.6 281.18h3.0M617.0 281.18h-3.0M340.6 260.82h5.3M617.0 260.82h-5.3M340.6 240.46h3.0M617.0 240.46h-3.0" stroke="#6b6b6b" stroke-width="1.3" fill="none"/>
<text x="20.4 28.5 32.5" y="9.10" font-size="13.8" fill="#111" stroke="#111" stroke-width="0.22">0.8</text>
<text x="20.4 28.5 32.5" y="56.20" font-size="13.8" fill="#111" stroke="#111" stroke-width="0.22">0.6</text>
<text x="20.4 28.5 32.5" y="107.20" font-size="13.8" fill="#111" stroke="#111" stroke-width="0.22">0.4</text>
<text x="20.4 28.5 32.5" y="158.20" font-size="13.8" fill="#111" stroke="#111" stroke-width="0.22">0.2</text>
<text x="20.4 28.5 32.5" y="205.20" font-size="13.8" fill="#111" stroke="#111" stroke-width="0.22">0.0</text>
<text x="20.4 28.5 32.5" y="228.60" font-size="13.8" fill="#111" stroke="#111" stroke-width="0.22">0.5</text>
<text x="20.4 28.5 32.5" y="265.90" font-size="13.8" fill="#111" stroke="#111" stroke-width="0.22">0.4</text>
<text x="20.4 28.5 32.5" y="306.60" font-size="13.8" fill="#111" stroke="#111" stroke-width="0.22">0.3</text>
<text x="20.4 28.5 32.5" y="347.10" font-size="13.8" fill="#111" stroke="#111" stroke-width="0.22">0.2</text>
<text x="20.4 28.5 32.5" y="388.00" font-size="13.8" fill="#111" stroke="#111" stroke-width="0.22">0.1</text>
<text x="20.4 28.5 32.5" y="424.60" font-size="13.8" fill="#111" stroke="#111" stroke-width="0.22">0.0</text>
<text x="27.50" y="440.9" font-size="13.4" textLength="30.0" lengthAdjust="spacing" fill="#111" stroke="#111" stroke-width="0.35">2001</text>
<text x="96.67" y="440.9" font-size="13.4" textLength="30.0" lengthAdjust="spacing" fill="#111" stroke="#111" stroke-width="0.35">2007</text>
<text x="165.85" y="440.9" font-size="13.4" textLength="30.0" lengthAdjust="spacing" fill="#111" stroke="#111" stroke-width="0.35">2013</text>
<text x="235.02" y="440.9" font-size="13.4" textLength="30.0" lengthAdjust="spacing" fill="#111" stroke="#111" stroke-width="0.35">2019</text>
<text x="166.55" y="455.3" font-size="13.4" textLength="28.4" lengthAdjust="spacing" fill="#111" stroke="#111" stroke-width="0.35">Year</text>
<text x="325.30" y="440.9" font-size="13.4" textLength="30.0" lengthAdjust="spacing" fill="#111" stroke="#111" stroke-width="0.35">2001</text>
<text x="394.40" y="440.9" font-size="13.4" textLength="30.0" lengthAdjust="spacing" fill="#111" stroke="#111" stroke-width="0.35">2007</text>
<text x="463.50" y="440.9" font-size="13.4" textLength="30.0" lengthAdjust="spacing" fill="#111" stroke="#111" stroke-width="0.35">2013</text>
<text x="532.60" y="440.9" font-size="13.4" textLength="30.0" lengthAdjust="spacing" fill="#111" stroke="#111" stroke-width="0.35">2019</text>
<text x="601.70" y="440.9" font-size="13.4" textLength="30.0" lengthAdjust="spacing" fill="#111" stroke="#111" stroke-width="0.35">2025</text>
<text x="464.20" y="455.3" font-size="13.4" textLength="28.4" lengthAdjust="spacing" fill="#111" stroke="#111" stroke-width="0.35">Year</text>
<text x="55.8" y="23.6" font-size="13.6" font-style="normal" fill="#111" stroke="#111" stroke-width="0.22" textLength="7.2" lengthAdjust="spacingAndGlyphs">0</text>
<text x="63.6" y="17.4" font-size="8.6" font-style="normal" fill="#111" stroke="#111" stroke-width="0.22" textLength="5.4" lengthAdjust="spacingAndGlyphs">0</text>
<path d="M83.80 14.30L77.60 17.40L83.80 20.40M77.30 21.50H83.80M77.20 23.50H83.90" stroke="#1a1a1a" stroke-width="1.0" fill="none"/>
<text x="88.6" y="23.7" font-size="13.6" font-style="italic" fill="#111" stroke="#111" stroke-width="0" textLength="7.6" lengthAdjust="spacingAndGlyphs">&#952;</text>
<path d="M111.60 14.30L105.20 17.40L111.60 20.40M104.90 21.50H111.60M104.80 23.50H111.70" stroke="#1a1a1a" stroke-width="1.0" fill="none"/>
<text x="121.6" y="23.6" font-size="13.6" font-style="normal" fill="#111" stroke="#111" stroke-width="0.22" textLength="15.0" lengthAdjust="spacingAndGlyphs">15</text>
<text x="136.7" y="17.7" font-size="8.6" font-style="normal" fill="#111" stroke="#111" stroke-width="0.22" textLength="5.4" lengthAdjust="spacingAndGlyphs">0</text>
<text x="348.1" y="23.6" font-size="13.6" font-style="normal" fill="#111" stroke="#111" stroke-width="0.22" textLength="14.6" lengthAdjust="spacingAndGlyphs">15</text>
<text x="363.1" y="17.4" font-size="8.6" font-style="normal" fill="#111" stroke="#111" stroke-width="0.22" textLength="5.2" lengthAdjust="spacingAndGlyphs">0</text>
<path d="M383.40 14.30L377.20 17.40L383.40 20.40M376.90 21.50H383.40M376.80 23.50H383.50" stroke="#1a1a1a" stroke-width="1.0" fill="none"/>
<text x="388.8" y="23.7" font-size="13.6" font-style="italic" fill="#111" stroke="#111" stroke-width="0" textLength="7.6" lengthAdjust="spacingAndGlyphs">&#952;</text>
<path d="M411.60 14.30L405.00 17.40L411.60 20.40M404.70 21.50H411.60M404.60 23.50H411.70" stroke="#1a1a1a" stroke-width="1.0" fill="none"/>
<text x="420.3" y="23.6" font-size="13.6" font-style="normal" fill="#111" stroke="#111" stroke-width="0.22" textLength="14.6" lengthAdjust="spacingAndGlyphs">30</text>
<text x="436.9" y="17.2" font-size="8.6" font-style="normal" fill="#111" stroke="#111" stroke-width="0.22" textLength="5.2" lengthAdjust="spacingAndGlyphs">0</text>
<line x1="181" y1="16.0" x2="201.8" y2="16.0" stroke="#ff7070" stroke-width="1.5"/>
<line x1="181" y1="36.35" x2="201.8" y2="36.35" stroke="#4848ff" stroke-width="1.2"/>
<text x="215.3 225.1 232.4 238.7 245.3" y="20.8" font-size="14.4" fill="#4a4a4a">North</text>
<text x="214.8 223.8 232.0 241.1 246.6" y="40.7" font-size="14.4" fill="#4a4a4a">South</text>
<g transform="translate(9.7,153.7) rotate(-90)"><text x="0" y="0" font-size="12" font-style="italic" fill="#111" textLength="13.4" lengthAdjust="spacingAndGlyphs">&#948;&#957;</text><text x="18.6" y="0" font-size="11.6" fill="#111" stroke="#111" stroke-width="0.4" textLength="84" lengthAdjust="spacing">(Normalized)</text></g>
<g transform="translate(9.7,381.2) rotate(-90)"><text x="0" y="0" font-size="11.8" fill="#111" stroke="#111" stroke-width="0.4" textLength="31" lengthAdjust="spacing">MMAI</text><text x="34.4" y="0" font-size="11.6" fill="#111" stroke="#111" stroke-width="0.4" textLength="84" lengthAdjust="spacing">(Normalized)</text></g>
</svg></body></html>
